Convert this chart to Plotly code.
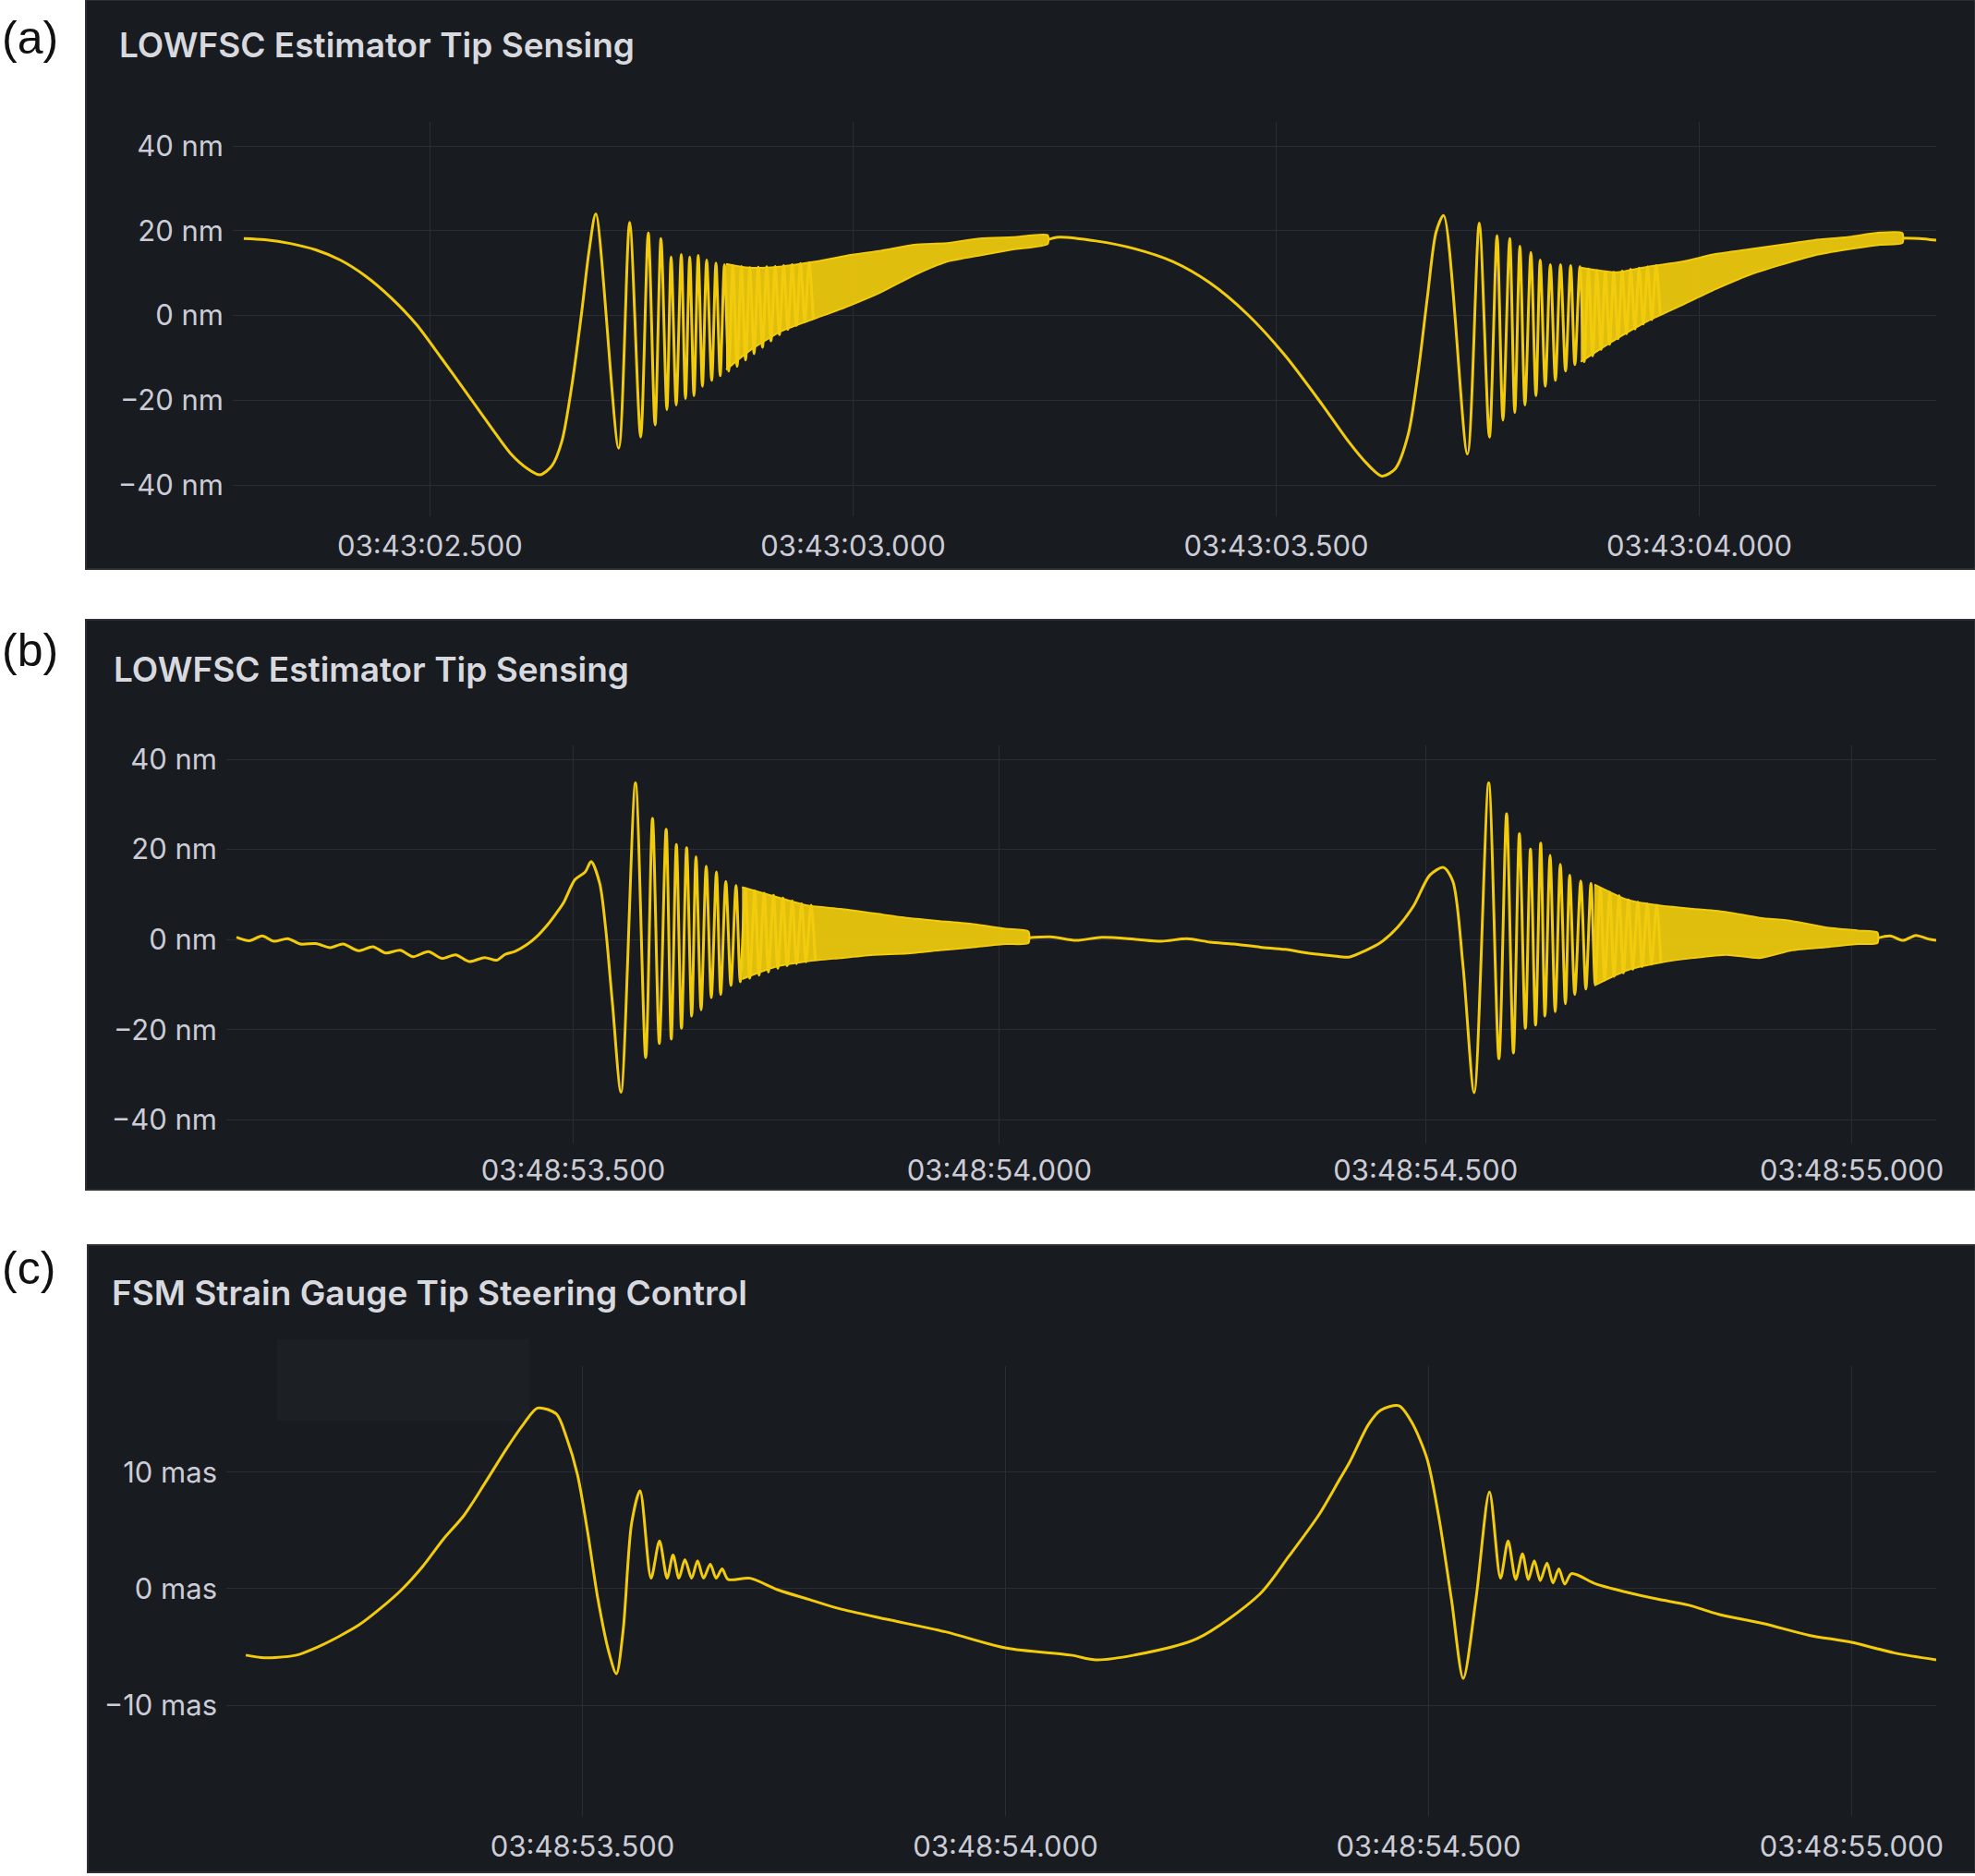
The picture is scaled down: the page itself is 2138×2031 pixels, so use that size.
import pandas as pd
import plotly.graph_objects as go

W, H = 2138, 2031

# ---------------- DATA ----------------
# Panel (a): LOWFSC Estimator Tip Sensing, seconds after 03:43:00, values in nm
# (None = the trace disappears into the dense ringing band drawn separately)
A_BASE = "2023-06-01 03:43:00"
A_T = [2.280, 2.305, 2.335, 2.365, 2.394, 2.424, 2.454, 2.484, 2.513, 2.543, 2.573, 2.595,
       2.615, 2.630, 2.644, 2.656, 2.668, 2.679, 2.688, 2.696,
       2.7232, 2.7368, 2.7493, 2.7583, 2.7660, 2.7730, 2.7800, 2.7856, 2.7914, 2.7973,
       2.8023, 2.8070, 2.8125, 2.8175, 2.8226, 2.8277, 2.8330, 2.8380, 2.8430, 2.8480, 2.8530,
       2.858, 2.863, 2.868, 2.873, 2.878, 2.883, 2.888, 2.893, 2.898, 2.903,
       2.908, 2.913, 2.918, 2.923, 2.928, 2.933, 2.938, 2.943, 2.948, 2.953,
       None,
       3.230, 3.243, 3.287, 3.332, 3.377, 3.421, 3.466, 3.510, 3.555, 3.585, 3.607, 3.625,
       3.641, 3.656, 3.668, 3.679, 3.689, 3.698,
       3.7263, 3.7407, 3.7524, 3.7610, 3.7688, 3.7762, 3.7825, 3.7887, 3.7949, 3.8012,
       3.8070, 3.8129, 3.8187, 3.8246, 3.8304, 3.8363, 3.8421, 3.8480, 3.8538,
       3.859, 3.864, 3.869, 3.874, 3.879, 3.884, 3.889, 3.894, 3.899, 3.904,
       3.909, 3.914, 3.919, 3.924, 3.929, 3.934, 3.939, 3.944, 3.949, 3.954,
       None,
       4.2400, 4.2600, 4.2806]
A_V = [18.2, 17.9, 17.0, 15.5, 13.1, 9.3, 4.2, -2.1, -9.9, -18.2, -26.6, -32.5,
       -36.1, -37.6, -35.5, -29.6, -16.1, 0.3, 15.2, 24.0,
       -31.3, 22.0, -28.7, 19.5, -25.8, 18.2, -22.2, 13.8, -21.1, 14.4,
       -19.6, 13.8, -18.9, 14.2, -16.7, 13.1, -15.3, 12.4, -14.2, 12.0, -13.1,
       11.8, -12.0, 11.6, -10.5, 11.3, -9.0, 11.4, -7.5, 11.5, -6.0,
       11.6, -4.5, 11.8, -3.3, 12.0, -2.3, 12.3, -1.5, 12.5, -0.8,
       None,
       17.9, 18.5, 17.6, 15.8, 12.8, 7.8, 0.3, -9.3, -21.2, -29.6, -34.9, -37.9,
       -36.1, -28.1, -13.1, 4.8, 19.7, 23.6,
       -32.7, 21.8, -28.7, 18.9, -24.7, 18.2, -22.9, 16.4, -21.1, 14.9,
       -18.9, 13.1, -16.7, 12.0, -15.3, 12.0, -13.1, 11.8, -11.6,
       11.5, -10.9, 11.0, -9.5, 10.6, -8.0, 10.3, -6.8, 10.2, -5.5,
       10.5, -4.3, 10.9, -3.2, 11.2, -2.0, 11.5, -1.0, 11.8, 0.0,
       None,
       18.3, 18.2, 17.8]
# dense ringing bands (upper / lower envelope)
A_BAND1_T = [2.850, 2.877, 2.916, 2.955, 2.994, 3.033, 3.072, 3.111, 3.150, 3.189, 3.230]
A_BAND1_UP = [12.2, 11.3, 11.6, 12.7, 14.2, 15.3, 16.7, 17.1, 18.2, 18.5, 19.0]
A_BAND1_LO = [-12.8, -8.4, -3.6, -0.7, 2.2, 5.5, 9.5, 12.7, 14.2, 15.6, 16.9]
A_BAND2_T = [3.8600, 3.9025, 3.9415, 3.9805, 4.0195, 4.0585, 4.0975, 4.1365, 4.1754, 4.2144, 4.2400]
A_BAND2_UP = [11.3, 10.2, 11.6, 12.7, 14.5, 15.6, 16.7, 17.8, 18.5, 19.6, 19.5]
A_BAND2_LO = [-10.9, -5.5, -1.1, 2.5, 6.2, 9.5, 12.0, 14.2, 15.6, 16.7, 17.1]

# Panel (b): LOWFSC Estimator Tip Sensing, seconds after 03:48:00, values in nm
B_BASE = "2023-06-01 03:48:00"
B_T = [53.105, 53.120, 53.135, 53.149, 53.165, 53.180, 53.198, 53.215, 53.230, 53.248,
       53.265, 53.280, 53.297, 53.312, 53.330, 53.346, 53.362, 53.378, 53.396, 53.410,
       53.420, 53.432, 53.445, 53.457, 53.470, 53.480, 53.489, 53.502, 53.514, 53.521,
       53.531, 53.538, 53.546, 53.556,
       53.5737, 53.5850, 53.5938, 53.6015, 53.6093, 53.6158, 53.6216, 53.6274, 53.6332,
       53.6390, 53.6448, 53.6506, 53.6564, 53.6622, 53.6680, 53.6737, 53.6795, 53.6853,
       53.6910, 53.6965,
       53.7020, 53.7075, 53.7130, 53.7185, 53.7240, 53.7295, 53.7350, 53.7405, 53.7460,
       53.7515, 53.7570, 53.7625, 53.7680, 53.7735, 53.7790, 53.7845,
       None,
       54.0340, 54.060, 54.090, 54.120, 54.158, 54.190, 54.220, 54.247, 54.275, 54.306, 54.335,
       54.365, 54.390, 54.410, 54.4305, 54.4479, 54.4672, 54.4865, 54.5058, 54.5212,
       54.5328, 54.5444, 54.5579,
       54.5745, 54.5869, 54.5954, 54.6035, 54.6108, 54.6178, 54.6236, 54.6293, 54.6351,
       54.6409, 54.6467, 54.6525, 54.6583, 54.6641, 54.6699, 54.6757, 54.6820, 54.6880,
       54.6940,
       54.6995, 54.7050, 54.7105, 54.7160, 54.7215, 54.7270, 54.7325, 54.7380, 54.7435,
       54.7490, 54.7545, 54.7600, 54.7655, 54.7710, 54.7765,
       None,
       55.030, 55.045, 55.060, 55.075, 55.090, 55.0993]
B_V = [0.5, -0.3, 0.8, -0.4, 0.2, -1.0, -0.9, -1.8, -1.0, -2.5,
       -1.6, -3.0, -2.4, -3.8, -2.7, -4.2, -3.4, -4.9, -4.0, -4.6,
       -3.3, -2.6, -1.2, 0.6, 3.3, 5.8, 8.3, 13.3, 15.0, 17.3,
       12.5, 2.5, -14.2, -33.9,
       34.8, -26.2, 26.9, -23.1, 24.5, -22.1, 21.1, -19.7, 20.4,
       -17.0, 18.4, -15.6, 16.3, -12.9, 15.0, -12.2, 12.9, -10.2,
       12.0, -9.4,
       11.3, -8.6, 10.8, -7.9, 10.3, -7.2, 9.8, -6.4, 9.2,
       -5.8, 8.6, -5.4, 8.0, -5.0, 7.6, -4.7,
       None,
       0.4, 0.6, -0.2, 0.5, 0.1, -0.4, 0.2, -0.6, -1.0, -1.7, -2.2,
       -3.1, -3.6, -3.9, -2.4, -0.7, 2.7, 7.5, 14.3, 16.0,
       12.9, -6.1, -34.0,
       34.8, -26.5, 27.9, -25.2, 23.5, -19.7, 20.1, -19.0, 21.4,
       -17.0, 18.7, -16.0, 16.7, -14.3, 14.3, -12.2, 13.0, -11.0,
       12.5,
       -10.0, 11.4, -9.0, 10.5, -8.2, 9.7, -7.4, 8.8, -6.6,
       8.3, -6.0, 7.9, -5.5, 7.6, -5.1,
       None,
       0.3, 0.8, -0.2, 0.9, 0.1, -0.2]
B_BAND1_T = [53.6988, 53.7375, 53.7760, 53.8147, 53.8530, 53.8920, 53.9305, 53.9690, 54.0077, 54.0340]
B_BAND1_UP = [11.6, 9.5, 7.5, 6.8, 5.8, 4.8, 4.1, 3.4, 2.4, 1.8]
B_BAND1_LO = [-8.8, -6.1, -4.8, -4.1, -3.4, -3.1, -2.4, -1.7, -1.0, -0.8]
B_BAND2_T = [54.6988, 54.7375, 54.7760, 54.8147, 54.8530, 54.8920, 54.9305, 54.9690, 55.0077, 55.0300]
B_BAND2_UP = [12.2, 8.8, 7.5, 6.8, 6.1, 4.8, 4.1, 2.7, 2.0, 1.6]
B_BAND2_LO = [-10.2, -6.8, -5.1, -4.1, -3.4, -4.1, -2.4, -1.7, -1.0, -0.8]

# Panel (c): FSM Strain Gauge Tip Steering Control, seconds after 03:48:00, values in mas
C_BASE = "2023-06-01 03:48:00"
C_T = [53.1027, 53.120, 53.1374, 53.162, 53.187, 53.212, 53.2365, 53.261, 53.286, 53.311,
       53.3355, 53.360, 53.385, 53.410, 53.430, 53.447, 53.4693, 53.4817, 53.494, 53.5064,
       53.5188, 53.5312, 53.5400, 53.5486, 53.5585, 53.5680, 53.5819, 53.591, 53.6001,
       53.6074, 53.6146, 53.6219, 53.6292, 53.6365, 53.6437, 53.651, 53.6583, 53.6656,
       53.6729, 53.6983, 53.7311, 53.7675, 53.8039, 53.8584, 53.929, 54.0015, 54.077,
       54.107, 54.152, 54.226, 54.300, 54.335, 54.370, 54.395, 54.4072, 54.429, 54.4436,
       54.4654, 54.480, 54.4982, 54.5127, 54.5273, 54.5419, 54.5564, 54.5728, 54.5855,
       54.5946, 54.6037, 54.611, 54.6183, 54.6255, 54.6328, 54.6401, 54.6474, 54.6547,
       54.6619, 54.6692, 54.6983, 54.7347, 54.7711, 54.8075, 54.8439, 54.896, 54.950,
       55.000, 55.050, 55.100]
C_V = [-5.7, -5.9, -5.9, -5.7, -5.0, -4.1, -3.1, -1.7, -0.1, 1.9,
       4.2, 6.3, 9.1, 12.0, 14.1, 15.5, 15.0, 13.0, 9.8, 4.9,
       -0.8, -5.4, -7.3, -3.6, 5.6, 8.4, 0.9, 4.1, 0.9,
       2.9, 0.9, 2.5, 0.9, 2.4, 0.9, 2.1, 0.9, 1.7,
       0.8, 0.9, -0.1, -0.9, -1.7, -2.6, -3.7, -5.1, -5.7,
       -6.1, -5.7, -4.3, -0.5, 2.8, 6.3, 9.4, 10.9, 14.1, 15.3,
       15.7, 14.3, 11.2, 6.2, -0.9, -7.7, -0.9, 8.3, 0.9,
       4.1, 0.8, 3.0, 0.8, 2.4, 0.7, 2.2, 0.5, 1.7,
       0.4, 1.3, 0.4, -0.3, -0.9, -1.4, -2.2, -3.0, -4.0,
       -4.6, -5.5, -6.1]

# Tick labels
AB_YTICK_VALS = [40, 20, 0, -20, -40]
AB_YTICK_TEXT = ["40 nm", "20 nm", "0 nm", "\u221220 nm", "\u221240 nm"]
C_YTICK_VALS = [10, 0, -10]
C_YTICK_TEXT = ["10 mas", "0 mas", "\u221210 mas"]
A_XTICK_SEC = [2.5, 3.0, 3.5, 4.0]
A_XTICK_TEXT = ["03:43:02.500", "03:43:03.000", "03:43:03.500", "03:43:04.000"]
BC_XTICK_SEC = [53.5, 54.0, 54.5, 55.0]
BC_XTICK_TEXT = ["03:48:53.500", "03:48:54.000", "03:48:54.500", "03:48:55.000"]

TITLES = ["LOWFSC Estimator Tip Sensing", "LOWFSC Estimator Tip Sensing",
          "FSM Strain Gauge Tip Steering Control"]
LABELS = ["(a)", "(b)", "(c)"]

# ---------------- STYLE ----------------
LINE = "#f2cc0c"
BAND = "rgba(242,204,12,0.92)"
PANEL = "#181b1f"
GRID = "#2a2d33"
TXT = "#ccccd6"
FONT = "Inter, Roboto, 'Open Sans', sans-serif"


def ts(base, secs):
    b = pd.Timestamp(base)
    return [None if s is None else
            (b + pd.Timedelta(seconds=s)).strftime("%Y-%m-%d %H:%M:%S.%f")[:-3] for s in secs]


def px(x):
    return x / W


def py(y):
    return 1 - y / H


fig = go.Figure()

# panel geometry (pixels): box, plot area, x range seconds, y range
panels = [
    dict(box=(93, 0, 2138, 616), plot=(252, 132, 2096, 559), base=A_BASE,
         xr=(2.2675, 4.2806), yr=(-47.4, 45.7), title=(127, 49), lab=41, xso=11,
         ytv=AB_YTICK_VALS, ytt=AB_YTICK_TEXT, xts=A_XTICK_SEC, xtt=A_XTICK_TEXT),
    dict(box=(93, 671, 2138, 1288), plot=(245, 807, 2096, 1238), base=B_BASE,
         xr=(53.0932, 55.0993), yr=(-45.3, 43.1), title=(121, 724), lab=704, xso=8,
         ytv=AB_YTICK_VALS, ytt=AB_YTICK_TEXT, xts=BC_XTICK_SEC, xtt=BC_XTICK_TEXT),
    dict(box=(95, 1348, 2138, 2027), plot=(245, 1479, 2096, 1966), base=C_BASE,
         xr=(53.0798, 55.1000), yr=(-19.5, 19.1), title=(119, 1399), lab=1373, xso=12,
         ytv=C_YTICK_VALS, ytt=C_YTICK_TEXT, xts=BC_XTICK_SEC, xtt=BC_XTICK_TEXT),
]

shapes = []
annotations = []
for i, p in enumerate(panels):
    n = "" if i == 0 else str(i + 1)
    x0, y0, x1, y1 = p["box"]
    shapes.append(dict(type="rect", xref="paper", yref="paper", x0=px(x0), x1=px(x1),
                       y0=py(y1), y1=py(y0), fillcolor=PANEL,
                       line=dict(color="#2b2e34", width=2), layer="below"))
    qx0, qy0, qx1, qy1 = p["plot"]
    fig.layout["xaxis" + n] = dict(
        domain=[px(qx0), px(qx1)], anchor="y" + n, type="date", automargin=False,
        range=ts(p["base"], p["xr"]), tickvals=ts(p["base"], p["xts"]), ticktext=p["xtt"],
        showgrid=True, gridcolor=GRID, gridwidth=1, zeroline=False, showline=False,
        ticks="", tickfont=dict(family=FONT, size=31, color=TXT), ticklabelstandoff=p["xso"],
        fixedrange=True)
    fig.layout["yaxis" + n] = dict(
        domain=[py(qy1), py(qy0)], anchor="x" + n, range=list(p["yr"]), automargin=False,
        tickvals=p["ytv"], ticktext=p["ytt"], showgrid=True, gridcolor=GRID, gridwidth=1,
        zeroline=False, showline=False, ticks="",
        tickfont=dict(family=FONT, size=31, color=TXT), ticklabelstandoff=9,
        fixedrange=True)
    annotations.append(dict(xref="paper", yref="paper", x=px(p["title"][0]), y=py(p["title"][1]),
                            xanchor="left", yanchor="middle", showarrow=False, text=TITLES[i],
                            font=dict(family=FONT, size=37, color="#d8d9de", weight=600)))
    annotations.append(dict(xref="paper", yref="paper", x=0, y=py(p["lab"]),
                            xanchor="left", yanchor="middle", showarrow=False, text=LABELS[i],
                            font=dict(family="Liberation Sans, Arial, sans-serif", size=50,
                                      color="#111111")))

# faint redacted box in panel (c)
shapes.append(dict(type="rect", xref="paper", yref="paper", x0=px(300), x1=px(573),
                   y0=py(1538), y1=py(1450), fillcolor="#1c1f24", line=dict(width=0),
                   layer="below"))


def band(base, t, up, lo, xa, ya):
    xs = ts(base, t) + ts(base, t[::-1])
    ys = up + lo[::-1]
    return go.Scatter(x=xs, y=ys, fill="toself", fillcolor=BAND, mode="lines",
                      line=dict(color=LINE, width=2, shape="spline", smoothing=0.6),
                      xaxis=xa, yaxis=ya, hoverinfo="skip", showlegend=False)


def trace(base, t, v, xa, ya):
    return go.Scatter(x=ts(base, t), y=v, mode="lines",
                      line=dict(color=LINE, width=3, shape="spline", smoothing=0.8),
                      xaxis=xa, yaxis=ya, showlegend=False, connectgaps=False)


fig.add_trace(band(A_BASE, A_BAND1_T, A_BAND1_UP, A_BAND1_LO, "x", "y"))
fig.add_trace(band(A_BASE, A_BAND2_T, A_BAND2_UP, A_BAND2_LO, "x", "y"))
fig.add_trace(trace(A_BASE, A_T, A_V, "x", "y"))
fig.add_trace(band(B_BASE, B_BAND1_T, B_BAND1_UP, B_BAND1_LO, "x2", "y2"))
fig.add_trace(band(B_BASE, B_BAND2_T, B_BAND2_UP, B_BAND2_LO, "x2", "y2"))
fig.add_trace(trace(B_BASE, B_T, B_V, "x2", "y2"))
fig.add_trace(trace(C_BASE, C_T, C_V, "x3", "y3"))

fig.update_layout(width=W, height=H, margin=dict(l=0, r=0, t=0, b=0, pad=0, autoexpand=False),
                  paper_bgcolor="white", plot_bgcolor=PANEL, shapes=shapes,
                  annotations=annotations, showlegend=False, hovermode=False)

fig.write_html("out.html")
